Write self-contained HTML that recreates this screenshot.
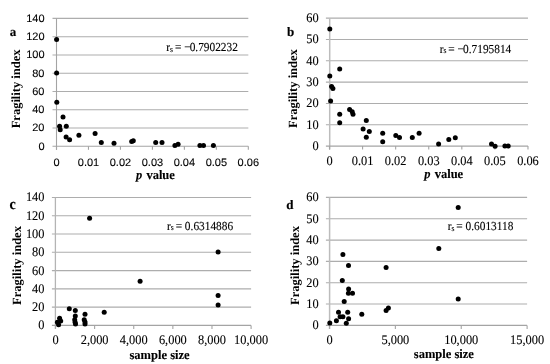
<!DOCTYPE html>
<html><head><meta charset="utf-8"><title>Fragility index scatter plots</title>
<style>html,body{margin:0;padding:0;background:#fff;}svg{display:block;text-rendering:geometricPrecision;}</style></head>
<body><svg width="550" height="364" viewBox="0 0 550 364">
<rect width="550" height="364" fill="#fff"/>
<line x1="52.50" y1="128.03" x2="248.32" y2="128.03" stroke="#adadad" stroke-width="1.1"/>
<line x1="52.50" y1="109.76" x2="248.32" y2="109.76" stroke="#adadad" stroke-width="1.1"/>
<line x1="52.50" y1="91.49" x2="248.32" y2="91.49" stroke="#adadad" stroke-width="1.1"/>
<line x1="52.50" y1="73.22" x2="248.32" y2="73.22" stroke="#adadad" stroke-width="1.1"/>
<line x1="52.50" y1="54.95" x2="248.32" y2="54.95" stroke="#adadad" stroke-width="1.1"/>
<line x1="52.50" y1="36.68" x2="248.32" y2="36.68" stroke="#adadad" stroke-width="1.1"/>
<line x1="52.50" y1="18.41" x2="248.32" y2="18.41" stroke="#adadad" stroke-width="1.1"/>
<line x1="56.50" y1="18.41" x2="56.50" y2="149.80" stroke="#a4a4a4" stroke-width="1.1"/>
<line x1="52.50" y1="146.30" x2="248.32" y2="146.30" stroke="#a4a4a4" stroke-width="1.1"/>
<line x1="56.50" y1="146.30" x2="56.50" y2="149.80" stroke="#a4a4a4" stroke-width="1.1"/>
<line x1="88.47" y1="146.30" x2="88.47" y2="149.80" stroke="#a4a4a4" stroke-width="1.1"/>
<line x1="120.44" y1="146.30" x2="120.44" y2="149.80" stroke="#a4a4a4" stroke-width="1.1"/>
<line x1="152.41" y1="146.30" x2="152.41" y2="149.80" stroke="#a4a4a4" stroke-width="1.1"/>
<line x1="184.38" y1="146.30" x2="184.38" y2="149.80" stroke="#a4a4a4" stroke-width="1.1"/>
<line x1="216.35" y1="146.30" x2="216.35" y2="149.80" stroke="#a4a4a4" stroke-width="1.1"/>
<line x1="248.32" y1="146.30" x2="248.32" y2="149.80" stroke="#a4a4a4" stroke-width="1.1"/>
<text transform="translate(44.50,149.76) scale(1,0.98)" font-family='"Liberation Sans", Arial, sans-serif' font-size="11.00" text-anchor="end" stroke="#000" stroke-width="0.1">0</text>
<text transform="translate(44.50,131.49) scale(1,0.98)" font-family='"Liberation Sans", Arial, sans-serif' font-size="11.00" text-anchor="end" stroke="#000" stroke-width="0.1">20</text>
<text transform="translate(44.50,113.22) scale(1,0.98)" font-family='"Liberation Sans", Arial, sans-serif' font-size="11.00" text-anchor="end" stroke="#000" stroke-width="0.1">40</text>
<text transform="translate(44.50,94.95) scale(1,0.98)" font-family='"Liberation Sans", Arial, sans-serif' font-size="11.00" text-anchor="end" stroke="#000" stroke-width="0.1">60</text>
<text transform="translate(44.50,76.68) scale(1,0.98)" font-family='"Liberation Sans", Arial, sans-serif' font-size="11.00" text-anchor="end" stroke="#000" stroke-width="0.1">80</text>
<text transform="translate(44.50,58.41) scale(1,0.98)" font-family='"Liberation Sans", Arial, sans-serif' font-size="11.00" text-anchor="end" stroke="#000" stroke-width="0.1">100</text>
<text transform="translate(44.50,40.14) scale(1,0.98)" font-family='"Liberation Sans", Arial, sans-serif' font-size="11.00" text-anchor="end" stroke="#000" stroke-width="0.1">120</text>
<text transform="translate(44.50,21.87) scale(1,0.98)" font-family='"Liberation Sans", Arial, sans-serif' font-size="11.00" text-anchor="end" stroke="#000" stroke-width="0.1">140</text>
<text transform="translate(56.50,165.60) scale(1,0.98)" font-family='"Liberation Sans", Arial, sans-serif' font-size="11.00" text-anchor="middle" stroke="#000" stroke-width="0.1">0</text>
<text transform="translate(88.47,165.60) scale(1,0.98)" font-family='"Liberation Sans", Arial, sans-serif' font-size="11.00" text-anchor="middle" stroke="#000" stroke-width="0.1">0.01</text>
<text transform="translate(120.44,165.60) scale(1,0.98)" font-family='"Liberation Sans", Arial, sans-serif' font-size="11.00" text-anchor="middle" stroke="#000" stroke-width="0.1">0.02</text>
<text transform="translate(152.41,165.60) scale(1,0.98)" font-family='"Liberation Sans", Arial, sans-serif' font-size="11.00" text-anchor="middle" stroke="#000" stroke-width="0.1">0.03</text>
<text transform="translate(184.38,165.60) scale(1,0.98)" font-family='"Liberation Sans", Arial, sans-serif' font-size="11.00" text-anchor="middle" stroke="#000" stroke-width="0.1">0.04</text>
<text transform="translate(216.35,165.60) scale(1,0.98)" font-family='"Liberation Sans", Arial, sans-serif' font-size="11.00" text-anchor="middle" stroke="#000" stroke-width="0.1">0.05</text>
<text transform="translate(248.32,165.60) scale(1,0.98)" font-family='"Liberation Sans", Arial, sans-serif' font-size="11.00" text-anchor="middle" stroke="#000" stroke-width="0.1">0.06</text>
<text x="9.80" y="36.20" font-family='"Liberation Serif", "Times New Roman", serif' font-size="13.00" font-weight="bold" stroke="#000" stroke-width="0.15">a</text>
<text transform="translate(20.10,88.90) rotate(-90)" text-anchor="middle" font-family='"Liberation Serif", "Times New Roman", serif' font-weight="bold" font-size="12.5">Fragility index</text>
<text transform="translate(136.00,179.10) scale(1,1.03)" font-family='"Liberation Serif", "Times New Roman", serif' font-size="12.50" font-weight="bold" stroke="#000" stroke-width="0.1"><tspan font-style="italic">p</tspan><tspan dx="1"> value</tspan></text>
<text transform="translate(166.30,51.40) scale(1,1.08)" font-family='"Liberation Serif", "Times New Roman", serif' font-size="11.35" stroke="#000" stroke-width="0.12">r<tspan font-size="7.60" dy="0.4">s </tspan><tspan dy="-0.4">= −<tspan dx="-0.9">0.7902232</tspan></tspan></text>
<circle cx="56.6" cy="39.5" r="2.5"/>
<circle cx="56.6" cy="73.1" r="2.5"/>
<circle cx="56.8" cy="102.3" r="2.5"/>
<circle cx="63.0" cy="117.0" r="2.5"/>
<circle cx="59.6" cy="126.2" r="2.5"/>
<circle cx="60.2" cy="129.7" r="2.5"/>
<circle cx="66.3" cy="126.2" r="2.5"/>
<circle cx="66.1" cy="137.0" r="2.5"/>
<circle cx="69.6" cy="139.8" r="2.5"/>
<circle cx="78.9" cy="135.3" r="2.5"/>
<circle cx="95.1" cy="133.4" r="2.5"/>
<circle cx="101.3" cy="142.5" r="2.5"/>
<circle cx="114" cy="143.3" r="2.5"/>
<circle cx="131.7" cy="141.5" r="2.5"/>
<circle cx="133.3" cy="140.8" r="2.5"/>
<circle cx="155.7" cy="142.5" r="2.5"/>
<circle cx="162" cy="142.5" r="2.5"/>
<circle cx="174.9" cy="145.5" r="2.5"/>
<circle cx="178.1" cy="144.3" r="2.5"/>
<circle cx="199.9" cy="145.5" r="2.5"/>
<circle cx="203.5" cy="145.5" r="2.5"/>
<circle cx="213.4" cy="145.5" r="2.5"/>
<line x1="325.90" y1="124.77" x2="527.98" y2="124.77" stroke="#adadad" stroke-width="1.1"/>
<line x1="325.90" y1="103.44" x2="527.98" y2="103.44" stroke="#adadad" stroke-width="1.1"/>
<line x1="325.90" y1="82.11" x2="527.98" y2="82.11" stroke="#adadad" stroke-width="1.1"/>
<line x1="325.90" y1="60.78" x2="527.98" y2="60.78" stroke="#adadad" stroke-width="1.1"/>
<line x1="325.90" y1="39.45" x2="527.98" y2="39.45" stroke="#adadad" stroke-width="1.1"/>
<line x1="325.90" y1="18.12" x2="527.98" y2="18.12" stroke="#adadad" stroke-width="1.1"/>
<line x1="329.70" y1="18.12" x2="329.70" y2="149.60" stroke="#bcbcbc" stroke-width="1.5"/>
<line x1="325.90" y1="146.10" x2="527.98" y2="146.10" stroke="#a4a4a4" stroke-width="1.1"/>
<line x1="329.50" y1="146.10" x2="329.50" y2="149.60" stroke="#a4a4a4" stroke-width="1.1"/>
<line x1="362.58" y1="146.10" x2="362.58" y2="149.60" stroke="#a4a4a4" stroke-width="1.1"/>
<line x1="395.66" y1="146.10" x2="395.66" y2="149.60" stroke="#a4a4a4" stroke-width="1.1"/>
<line x1="428.74" y1="146.10" x2="428.74" y2="149.60" stroke="#a4a4a4" stroke-width="1.1"/>
<line x1="461.82" y1="146.10" x2="461.82" y2="149.60" stroke="#a4a4a4" stroke-width="1.1"/>
<line x1="494.90" y1="146.10" x2="494.90" y2="149.60" stroke="#a4a4a4" stroke-width="1.1"/>
<line x1="527.98" y1="146.10" x2="527.98" y2="149.60" stroke="#a4a4a4" stroke-width="1.1"/>
<text transform="translate(318.70,150.05) scale(1,1.06)" font-family='"Liberation Serif", "Times New Roman", serif' font-size="12.40" text-anchor="end" stroke="#000" stroke-width="0.1">0</text>
<text transform="translate(318.70,128.72) scale(1,1.06)" font-family='"Liberation Serif", "Times New Roman", serif' font-size="12.40" text-anchor="end" stroke="#000" stroke-width="0.1">10</text>
<text transform="translate(318.70,107.39) scale(1,1.06)" font-family='"Liberation Serif", "Times New Roman", serif' font-size="12.40" text-anchor="end" stroke="#000" stroke-width="0.1">20</text>
<text transform="translate(318.70,86.06) scale(1,1.06)" font-family='"Liberation Serif", "Times New Roman", serif' font-size="12.40" text-anchor="end" stroke="#000" stroke-width="0.1">30</text>
<text transform="translate(318.70,64.73) scale(1,1.06)" font-family='"Liberation Serif", "Times New Roman", serif' font-size="12.40" text-anchor="end" stroke="#000" stroke-width="0.1">40</text>
<text transform="translate(318.70,43.40) scale(1,1.06)" font-family='"Liberation Serif", "Times New Roman", serif' font-size="12.40" text-anchor="end" stroke="#000" stroke-width="0.1">50</text>
<text transform="translate(318.70,22.07) scale(1,1.06)" font-family='"Liberation Serif", "Times New Roman", serif' font-size="12.40" text-anchor="end" stroke="#000" stroke-width="0.1">60</text>
<text transform="translate(329.50,164.60) scale(1,1.06)" font-family='"Liberation Serif", "Times New Roman", serif' font-size="12.40" text-anchor="middle" stroke="#000" stroke-width="0.1">0</text>
<text transform="translate(362.58,164.60) scale(1,1.06)" font-family='"Liberation Serif", "Times New Roman", serif' font-size="12.40" text-anchor="middle" stroke="#000" stroke-width="0.1">0.01</text>
<text transform="translate(395.66,164.60) scale(1,1.06)" font-family='"Liberation Serif", "Times New Roman", serif' font-size="12.40" text-anchor="middle" stroke="#000" stroke-width="0.1">0.02</text>
<text transform="translate(428.74,164.60) scale(1,1.06)" font-family='"Liberation Serif", "Times New Roman", serif' font-size="12.40" text-anchor="middle" stroke="#000" stroke-width="0.1">0.03</text>
<text transform="translate(461.82,164.60) scale(1,1.06)" font-family='"Liberation Serif", "Times New Roman", serif' font-size="12.40" text-anchor="middle" stroke="#000" stroke-width="0.1">0.04</text>
<text transform="translate(494.90,164.60) scale(1,1.06)" font-family='"Liberation Serif", "Times New Roman", serif' font-size="12.40" text-anchor="middle" stroke="#000" stroke-width="0.1">0.05</text>
<text transform="translate(527.98,164.60) scale(1,1.06)" font-family='"Liberation Serif", "Times New Roman", serif' font-size="12.40" text-anchor="middle" stroke="#000" stroke-width="0.1">0.06</text>
<text x="287.00" y="36.10" font-family='"Liberation Serif", "Times New Roman", serif' font-size="13.00" font-weight="bold" stroke="#000" stroke-width="0.15">b</text>
<text transform="translate(297.10,88.60) rotate(-90)" text-anchor="middle" font-family='"Liberation Serif", "Times New Roman", serif' font-weight="bold" font-size="12.5">Fragility index</text>
<text transform="translate(424.30,177.50) scale(1,1.03)" font-family='"Liberation Serif", "Times New Roman", serif' font-size="12.50" font-weight="bold" stroke="#000" stroke-width="0.1"><tspan font-style="italic">p</tspan><tspan dx="1"> value</tspan></text>
<text transform="translate(439.70,52.60) scale(1,1.08)" font-family='"Liberation Serif", "Times New Roman", serif' font-size="11.35" stroke="#000" stroke-width="0.12">r<tspan font-size="7.60" dy="0.4">s </tspan><tspan dy="-0.4">= −<tspan dx="-0.9">0.7195814</tspan></tspan></text>
<circle cx="329.8" cy="29" r="2.5"/>
<circle cx="339.7" cy="69.1" r="2.5"/>
<circle cx="329.8" cy="76.1" r="2.5"/>
<circle cx="331.6" cy="86.5" r="2.5"/>
<circle cx="332.9" cy="88.6" r="2.5"/>
<circle cx="330.6" cy="101" r="2.5"/>
<circle cx="339.7" cy="114.2" r="2.5"/>
<circle cx="339.7" cy="122.8" r="2.5"/>
<circle cx="349.6" cy="109.6" r="2.5"/>
<circle cx="352.2" cy="111.7" r="2.5"/>
<circle cx="353" cy="114.2" r="2.5"/>
<circle cx="366.3" cy="120.6" r="2.5"/>
<circle cx="363.1" cy="128.9" r="2.5"/>
<circle cx="369.3" cy="131.5" r="2.5"/>
<circle cx="366.3" cy="137.3" r="2.5"/>
<circle cx="382.7" cy="133.3" r="2.5"/>
<circle cx="382.7" cy="141.7" r="2.5"/>
<circle cx="395.8" cy="135.5" r="2.5"/>
<circle cx="399.5" cy="137.6" r="2.5"/>
<circle cx="412.3" cy="137.6" r="2.5"/>
<circle cx="419.1" cy="133.3" r="2.5"/>
<circle cx="438.6" cy="144" r="2.5"/>
<circle cx="448.8" cy="139.6" r="2.5"/>
<circle cx="455.3" cy="137.7" r="2.5"/>
<circle cx="491.5" cy="144.1" r="2.5"/>
<circle cx="495.1" cy="146.3" r="2.5"/>
<circle cx="504.9" cy="146.1" r="2.5"/>
<circle cx="508.2" cy="146.1" r="2.5"/>
<line x1="51.90" y1="307.13" x2="251.10" y2="307.13" stroke="#adadad" stroke-width="1.1"/>
<line x1="51.90" y1="288.86" x2="251.10" y2="288.86" stroke="#adadad" stroke-width="1.1"/>
<line x1="51.90" y1="270.59" x2="251.10" y2="270.59" stroke="#adadad" stroke-width="1.1"/>
<line x1="51.90" y1="252.32" x2="251.10" y2="252.32" stroke="#adadad" stroke-width="1.1"/>
<line x1="51.90" y1="234.05" x2="251.10" y2="234.05" stroke="#adadad" stroke-width="1.1"/>
<line x1="51.90" y1="215.78" x2="251.10" y2="215.78" stroke="#adadad" stroke-width="1.1"/>
<line x1="51.90" y1="197.51" x2="251.10" y2="197.51" stroke="#adadad" stroke-width="1.1"/>
<line x1="55.40" y1="197.51" x2="55.40" y2="328.90" stroke="#b4b4b4" stroke-width="1.3"/>
<line x1="51.90" y1="325.40" x2="251.10" y2="325.40" stroke="#a4a4a4" stroke-width="1.1"/>
<line x1="55.50" y1="325.40" x2="55.50" y2="328.90" stroke="#a4a4a4" stroke-width="1.1"/>
<line x1="94.62" y1="325.40" x2="94.62" y2="328.90" stroke="#a4a4a4" stroke-width="1.1"/>
<line x1="133.74" y1="325.40" x2="133.74" y2="328.90" stroke="#a4a4a4" stroke-width="1.1"/>
<line x1="172.86" y1="325.40" x2="172.86" y2="328.90" stroke="#a4a4a4" stroke-width="1.1"/>
<line x1="211.98" y1="325.40" x2="211.98" y2="328.90" stroke="#a4a4a4" stroke-width="1.1"/>
<line x1="251.10" y1="325.40" x2="251.10" y2="328.90" stroke="#a4a4a4" stroke-width="1.1"/>
<text transform="translate(44.50,329.35) scale(1,1.06)" font-family='"Liberation Serif", "Times New Roman", serif' font-size="12.40" text-anchor="end" stroke="#000" stroke-width="0.1">0</text>
<text transform="translate(44.50,311.08) scale(1,1.06)" font-family='"Liberation Serif", "Times New Roman", serif' font-size="12.40" text-anchor="end" stroke="#000" stroke-width="0.1">20</text>
<text transform="translate(44.50,292.81) scale(1,1.06)" font-family='"Liberation Serif", "Times New Roman", serif' font-size="12.40" text-anchor="end" stroke="#000" stroke-width="0.1">40</text>
<text transform="translate(44.50,274.54) scale(1,1.06)" font-family='"Liberation Serif", "Times New Roman", serif' font-size="12.40" text-anchor="end" stroke="#000" stroke-width="0.1">60</text>
<text transform="translate(44.50,256.27) scale(1,1.06)" font-family='"Liberation Serif", "Times New Roman", serif' font-size="12.40" text-anchor="end" stroke="#000" stroke-width="0.1">80</text>
<text transform="translate(44.50,238.00) scale(1,1.06)" font-family='"Liberation Serif", "Times New Roman", serif' font-size="12.40" text-anchor="end" stroke="#000" stroke-width="0.1">100</text>
<text transform="translate(44.50,219.73) scale(1,1.06)" font-family='"Liberation Serif", "Times New Roman", serif' font-size="12.40" text-anchor="end" stroke="#000" stroke-width="0.1">120</text>
<text transform="translate(44.50,201.46) scale(1,1.06)" font-family='"Liberation Serif", "Times New Roman", serif' font-size="12.40" text-anchor="end" stroke="#000" stroke-width="0.1">140</text>
<text transform="translate(55.50,344.00) scale(1,1.06)" font-family='"Liberation Serif", "Times New Roman", serif' font-size="12.40" text-anchor="middle" stroke="#000" stroke-width="0.1">0</text>
<text transform="translate(94.62,344.00) scale(1,1.06)" font-family='"Liberation Serif", "Times New Roman", serif' font-size="12.40" text-anchor="middle" stroke="#000" stroke-width="0.1">2,000</text>
<text transform="translate(133.74,344.00) scale(1,1.06)" font-family='"Liberation Serif", "Times New Roman", serif' font-size="12.40" text-anchor="middle" stroke="#000" stroke-width="0.1">4,000</text>
<text transform="translate(172.86,344.00) scale(1,1.06)" font-family='"Liberation Serif", "Times New Roman", serif' font-size="12.40" text-anchor="middle" stroke="#000" stroke-width="0.1">6,000</text>
<text transform="translate(211.98,344.00) scale(1,1.06)" font-family='"Liberation Serif", "Times New Roman", serif' font-size="12.40" text-anchor="middle" stroke="#000" stroke-width="0.1">8,000</text>
<text transform="translate(251.10,344.00) scale(1,1.06)" font-family='"Liberation Serif", "Times New Roman", serif' font-size="12.40" text-anchor="middle" stroke="#000" stroke-width="0.1">10,000</text>
<text transform="translate(9.60,209.10) scale(1,1.08)" font-family='"Liberation Serif", "Times New Roman", serif' font-size="14.04" font-weight="bold" stroke="#000" stroke-width="0.15">c</text>
<text transform="translate(20.60,265.50) rotate(-90)" text-anchor="middle" font-family='"Liberation Serif", "Times New Roman", serif' font-weight="bold" font-size="12.5">Fragility index</text>
<text transform="translate(129.50,358.90) scale(1,1.03)" font-family='"Liberation Serif", "Times New Roman", serif' font-size="12.50" font-weight="bold" stroke="#000" stroke-width="0.1">sample size</text>
<text transform="translate(167.00,229.70) scale(1,1.08)" font-family='"Liberation Serif", "Times New Roman", serif' font-size="11.35" stroke="#000" stroke-width="0.12">r<tspan font-size="7.60" dy="0.4">s </tspan><tspan dy="-0.4">= 0.6314886</tspan></text>
<circle cx="89.6" cy="218.2" r="2.5"/>
<circle cx="140.1" cy="281.2" r="2.5"/>
<circle cx="218.1" cy="251.9" r="2.5"/>
<circle cx="218.1" cy="295.6" r="2.5"/>
<circle cx="218.1" cy="305.1" r="2.5"/>
<circle cx="104.2" cy="312.3" r="2.5"/>
<circle cx="69.3" cy="308.7" r="2.5"/>
<circle cx="75.3" cy="310.5" r="2.5"/>
<circle cx="75.3" cy="315.9" r="2.5"/>
<circle cx="74.7" cy="319.8" r="2.5"/>
<circle cx="75.1" cy="322.3" r="2.5"/>
<circle cx="75.5" cy="323.9" r="2.5"/>
<circle cx="85" cy="314.2" r="2.5"/>
<circle cx="84.2" cy="319.8" r="2.5"/>
<circle cx="85" cy="321.9" r="2.5"/>
<circle cx="85" cy="323.9" r="2.5"/>
<circle cx="59.6" cy="318.3" r="2.5"/>
<circle cx="60.7" cy="321" r="2.5"/>
<circle cx="57.4" cy="322.3" r="2.5"/>
<circle cx="58.6" cy="324.7" r="2.5"/>
<line x1="325.90" y1="304.07" x2="527.11" y2="304.07" stroke="#adadad" stroke-width="1.1"/>
<line x1="325.90" y1="282.74" x2="527.11" y2="282.74" stroke="#adadad" stroke-width="1.1"/>
<line x1="325.90" y1="261.41" x2="527.11" y2="261.41" stroke="#adadad" stroke-width="1.1"/>
<line x1="325.90" y1="240.08" x2="527.11" y2="240.08" stroke="#adadad" stroke-width="1.1"/>
<line x1="325.90" y1="218.75" x2="527.11" y2="218.75" stroke="#adadad" stroke-width="1.1"/>
<line x1="325.90" y1="197.42" x2="527.11" y2="197.42" stroke="#adadad" stroke-width="1.1"/>
<line x1="329.60" y1="197.42" x2="329.60" y2="328.90" stroke="#bcbcbc" stroke-width="1.5"/>
<line x1="325.90" y1="325.40" x2="527.11" y2="325.40" stroke="#a4a4a4" stroke-width="1.1"/>
<line x1="329.50" y1="325.40" x2="329.50" y2="328.90" stroke="#a4a4a4" stroke-width="1.1"/>
<line x1="395.37" y1="325.40" x2="395.37" y2="328.90" stroke="#a4a4a4" stroke-width="1.1"/>
<line x1="461.24" y1="325.40" x2="461.24" y2="328.90" stroke="#a4a4a4" stroke-width="1.1"/>
<line x1="527.11" y1="325.40" x2="527.11" y2="328.90" stroke="#a4a4a4" stroke-width="1.1"/>
<text transform="translate(318.70,329.35) scale(1,1.06)" font-family='"Liberation Serif", "Times New Roman", serif' font-size="12.40" text-anchor="end" stroke="#000" stroke-width="0.1">0</text>
<text transform="translate(318.70,308.02) scale(1,1.06)" font-family='"Liberation Serif", "Times New Roman", serif' font-size="12.40" text-anchor="end" stroke="#000" stroke-width="0.1">10</text>
<text transform="translate(318.70,286.69) scale(1,1.06)" font-family='"Liberation Serif", "Times New Roman", serif' font-size="12.40" text-anchor="end" stroke="#000" stroke-width="0.1">20</text>
<text transform="translate(318.70,265.36) scale(1,1.06)" font-family='"Liberation Serif", "Times New Roman", serif' font-size="12.40" text-anchor="end" stroke="#000" stroke-width="0.1">30</text>
<text transform="translate(318.70,244.03) scale(1,1.06)" font-family='"Liberation Serif", "Times New Roman", serif' font-size="12.40" text-anchor="end" stroke="#000" stroke-width="0.1">40</text>
<text transform="translate(318.70,222.70) scale(1,1.06)" font-family='"Liberation Serif", "Times New Roman", serif' font-size="12.40" text-anchor="end" stroke="#000" stroke-width="0.1">50</text>
<text transform="translate(318.70,201.37) scale(1,1.06)" font-family='"Liberation Serif", "Times New Roman", serif' font-size="12.40" text-anchor="end" stroke="#000" stroke-width="0.1">60</text>
<text transform="translate(329.50,343.80) scale(1,1.06)" font-family='"Liberation Serif", "Times New Roman", serif' font-size="12.40" text-anchor="middle" stroke="#000" stroke-width="0.1">0</text>
<text transform="translate(395.37,343.80) scale(1,1.06)" font-family='"Liberation Serif", "Times New Roman", serif' font-size="12.40" text-anchor="middle" stroke="#000" stroke-width="0.1">5,000</text>
<text transform="translate(461.24,343.80) scale(1,1.06)" font-family='"Liberation Serif", "Times New Roman", serif' font-size="12.40" text-anchor="middle" stroke="#000" stroke-width="0.1">10,000</text>
<text transform="translate(527.11,343.80) scale(1,1.06)" font-family='"Liberation Serif", "Times New Roman", serif' font-size="12.40" text-anchor="middle" stroke="#000" stroke-width="0.1">15,000</text>
<text x="286.20" y="208.60" font-family='"Liberation Serif", "Times New Roman", serif' font-size="13.00" font-weight="bold" stroke="#000" stroke-width="0.15">d</text>
<text transform="translate(298.70,265.50) rotate(-90)" text-anchor="middle" font-family='"Liberation Serif", "Times New Roman", serif' font-weight="bold" font-size="12.5">Fragility index</text>
<text transform="translate(413.80,357.80) scale(1,1.03)" font-family='"Liberation Serif", "Times New Roman", serif' font-size="12.50" font-weight="bold" stroke="#000" stroke-width="0.1">sample size</text>
<text transform="translate(447.70,230.30) scale(1,1.08)" font-family='"Liberation Serif", "Times New Roman", serif' font-size="11.35" stroke="#000" stroke-width="0.12">r<tspan font-size="7.60" dy="0.4">s </tspan><tspan dy="-0.4">= 0.6013118</tspan></text>
<circle cx="458.2" cy="207.6" r="2.5"/>
<circle cx="438.8" cy="248.4" r="2.5"/>
<circle cx="458.2" cy="299.1" r="2.5"/>
<circle cx="386.1" cy="267.5" r="2.5"/>
<circle cx="386.1" cy="310.4" r="2.5"/>
<circle cx="388.4" cy="308" r="2.5"/>
<circle cx="342.9" cy="254.6" r="2.5"/>
<circle cx="348.5" cy="265.4" r="2.5"/>
<circle cx="342.3" cy="280.4" r="2.5"/>
<circle cx="348.6" cy="288.9" r="2.5"/>
<circle cx="348.4" cy="293.3" r="2.5"/>
<circle cx="352.5" cy="293.3" r="2.5"/>
<circle cx="344.2" cy="301.6" r="2.5"/>
<circle cx="338.5" cy="312.3" r="2.5"/>
<circle cx="347.7" cy="312.3" r="2.5"/>
<circle cx="340.1" cy="316.8" r="2.5"/>
<circle cx="342.9" cy="316.8" r="2.5"/>
<circle cx="348.6" cy="318.7" r="2.5"/>
<circle cx="336.4" cy="320.7" r="2.5"/>
<circle cx="346.3" cy="323.3" r="2.5"/>
<circle cx="329.8" cy="323" r="2.5"/>
<circle cx="361.8" cy="314.3" r="2.5"/>
</svg></body></html>
